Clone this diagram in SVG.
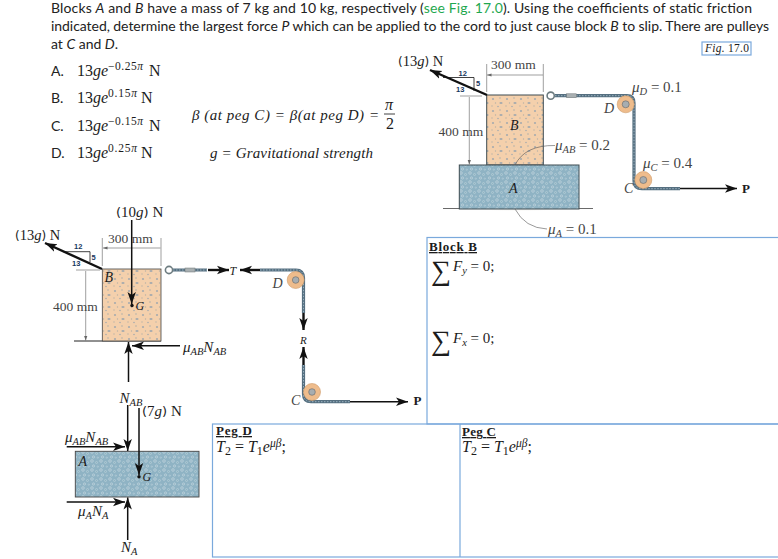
<svg xmlns="http://www.w3.org/2000/svg" width="778" height="559" viewBox="0 0 778 559">
<style>
text{font-family:"Liberation Serif","Times New Roman",serif;fill:#1c1c1c}
.b{font-family:Lato,"Open Sans",sans-serif;font-size:14px;fill:#222}
.m{font-size:16px}
.i{font-style:italic}
.s{font-size:11.5px}
.d{font-size:13.5px;fill:#444}
.mu{font-size:15px;fill:#444}
.n{font-family:"Liberation Sans",sans-serif;font-size:7.5px;fill:#17375e;font-weight:bold}
.h{font-size:13px;font-weight:bold;text-decoration:underline}
.box{fill:none;stroke:#7aa9dc;stroke-width:1.2}
.blk{stroke:#3c4a50;stroke-width:1}
.dim{fill:none;stroke:#777;stroke-width:.7}
.f{fill:none;stroke:#111;stroke-width:1.5;marker-end:url(#ah)}
.ft{fill:none;stroke:#111;stroke-width:2.4;marker-end:url(#ah)}
.cab{fill:none;stroke:#556f80;stroke-width:3.2}
.cab2{fill:none;stroke:#9ab2bf;stroke-width:1;stroke-dasharray:1.5 1.5}
.peg{fill:#eebc8c;stroke:#cf9a68;stroke-width:.6}
.pin{fill:#a7adb0;stroke:#666;stroke-width:.6}
.eye{fill:#fff;stroke:#6d7c80;stroke-width:1.6}
.sl{fill:#a9b0b2;stroke:#6b7375;stroke-width:.5}
.ld{fill:none;stroke:#555;stroke-width:.6}
.fl{font-size:15px}
.su{font-size:10.5px}
</style>
<defs>
<marker id="ah" markerUnits="userSpaceOnUse" markerWidth="13" markerHeight="10" refX="12" refY="5" orient="auto"><path d="M0 .8L12 5L0 9.2L3 5Z" fill="#111"/></marker>
<marker id="dm" markerUnits="userSpaceOnUse" markerWidth="5" markerHeight="4" refX="4.5" refY="2" orient="auto-start-reverse"><path d="M0 .4L4.5 2L0 3.6Z" fill="#666"/></marker>
<pattern id="pb" width="14" height="12" patternUnits="userSpaceOnUse">
<rect width="14" height="12" fill="#f4d0ac"/>
<circle cx="3" cy="3" r="1.100" fill="#a7abad"/><circle cx="10" cy="2" r=".8" fill="#b0b0aa"/><ellipse cx="11" cy="7" rx="1.600" ry=".9" fill="#a7abad"/><circle cx="5.500" cy="7" r=".7" fill="#b8b2a6"/><circle cx="8" cy="10.500" r=".8" fill="#a7abad"/><circle cx="2" cy="10" r=".7" fill="#b8b2a6"/>
</pattern>
<pattern id="pa" width="9" height="9" patternUnits="userSpaceOnUse">
<rect width="9" height="9" fill="#8fb3c4"/>
<circle cx="2" cy="2" r="1.300" fill="none" stroke="#c9dae0" stroke-width=".6"/><circle cx="6.500" cy="3.500" r="1" fill="none" stroke="#bcd1da" stroke-width=".6"/><circle cx="3.500" cy="7" r="1.100" fill="none" stroke="#c9dae0" stroke-width=".6"/><circle cx="7.800" cy="7.600" r=".7" fill="none" stroke="#bcd1da" stroke-width=".5"/>
</pattern>
<radialGradient id="sh" cx=".5" cy="0" r=".6"><stop offset="0" stop-color="#c9c6b4"/><stop offset="1" stop-color="#fff"/></radialGradient>
</defs>

<g id="statement">
<text class="b" x="51" y="12.500" textLength="701">Blocks <tspan class="i">A</tspan> and <tspan class="i">B</tspan> have a mass of 7 kg and 10 kg, respectively (<tspan fill="#1fa84f">see Fig. 17.0</tspan>). Using the coefficients of static friction</text>
<text class="b" x="51" y="30.500" textLength="718">indicated, determine the largest force <tspan class="i">P</tspan> which can be applied to the cord to just cause block <tspan class="i">B</tspan> to slip. There are pulleys</text>
<text class="b" x="51" y="48.500" textLength="67">at <tspan class="i">C</tspan> and <tspan class="i">D</tspan>.</text>
</g>

<g id="options">
<text class="b" x="51" y="76">A.</text>
<text class="m" x="77" y="76">13<tspan class="i">ge</tspan></text><text class="s" x="108" y="70" textLength="35">−0.25<tspan class="i">π</tspan></text><text class="m" x="149" y="76">N</text>
<text class="b" x="51" y="103">B.</text>
<text class="m" x="77" y="103">13<tspan class="i">ge</tspan></text><text class="s" x="108" y="97" textLength="29">0.15<tspan class="i">π</tspan></text><text class="m" x="141" y="103">N</text>
<text class="b" x="51" y="131">C.</text>
<text class="m" x="77" y="131">13<tspan class="i">ge</tspan></text><text class="s" x="108" y="125" textLength="35">−0.15<tspan class="i">π</tspan></text><text class="m" x="149" y="131">N</text>
<text class="b" x="51" y="158">D.</text>
<text class="m" x="77" y="158">13<tspan class="i">ge</tspan></text><text class="s" x="108" y="152" textLength="29">0.25<tspan class="i">π</tspan></text><text class="m" x="141" y="158">N</text>
</g>

<g id="given">
<text class="m i" x="192" y="120" textLength="187" style="font-size:15px">β (at peg C) = β(at peg D) =</text>
<text class="m i" x="385" y="110">π</text>
<line x1="384" y1="114" x2="395" y2="114" stroke="#111" stroke-width=".8"/>
<text class="m" x="386" y="129">2</text>
<text class="m i" x="210" y="158" textLength="163" style="font-size:15px">g = Gravitational strength</text>
</g>

<g id="fig-box">
<rect class="box" x="702" y="42" width="49" height="13"/>
<text x="705" y="51.500" font-size="11.500" textLength="44"><tspan class="i">Fig.</tspan> 17.0</text>
</g>

<g id="solution-boxes">
<rect class="box" x="427" y="237.500" width="352" height="186.500"/>
<rect class="box" x="212.500" y="424" width="566.500" height="133"/>
<line class="box" x1="460" y1="424" x2="460" y2="557"/>
</g>

<g id="block-b-work">
<text class="h" x="429" y="251" textLength="48">Block B</text>
<text x="431" y="280" font-size="28" font-family="DejaVu Serif">∑</text>
<text x="453" y="271" font-size="15"><tspan class="i">F<tspan font-size="10.500" dy="3">y</tspan></tspan><tspan dy="-3"> = 0;</tspan></text>
<text x="431" y="350" font-size="28" font-family="DejaVu Serif">∑</text>
<text x="453" y="343" font-size="15"><tspan class="i">F<tspan font-size="10.500" dy="3">x</tspan></tspan><tspan dy="-3"> = 0;</tspan></text>
</g>
<g id="peg-d-work">
<text class="h" x="216" y="435" textLength="36">Peg D</text>
<text class="m" x="216" y="452"><tspan class="i">T</tspan><tspan font-size="12" dy="3">2</tspan><tspan dy="-3"> = </tspan><tspan class="i">T</tspan><tspan font-size="12" dy="3">1</tspan><tspan class="i" dy="-3">e</tspan><tspan class="i" font-size="11.500" dy="-5">μβ</tspan><tspan dy="5">;</tspan></text>
</g>
<g id="peg-c-work">
<text class="h" x="462" y="436" textLength="34">Peg C</text>
<text class="m" x="462" y="452"><tspan class="i">T</tspan><tspan font-size="12" dy="3">2</tspan><tspan dy="-3"> = </tspan><tspan class="i">T</tspan><tspan font-size="12" dy="3">1</tspan><tspan class="i" dy="-3">e</tspan><tspan class="i" font-size="11.500" dy="-5">μβ</tspan><tspan dy="5">;</tspan></text>
</g>

<g id="main-figure">
<ellipse cx="518" cy="209" rx="62" ry="13" fill="url(#sh)"/>
<line x1="443" y1="208.500" x2="593" y2="208.500" stroke="#444" stroke-width=".8"/>
<rect class="blk" x="486.700" y="95" width="56.600" height="70" fill="url(#pb)"/>
<rect class="blk" x="459.300" y="165" width="119.700" height="44" fill="url(#pa)"/>
<text class="i" x="510" y="130" font-size="14" fill="#333">B</text>
<text class="i" x="509" y="193" font-size="14" fill="#333">A</text>
<path class="dim" d="M486.700 64V92M543.300 64V92M460 96H482"/>
<path class="dim" d="M487 75H543M469.300 97V164.500" marker-start="url(#dm)" marker-end="url(#dm)"/>
<text class="d" x="491" y="69">300 mm</text>
<text class="d" x="438.500" y="136">400 mm</text>
<path class="cab" d="M555 95.700H627Q634 95.700 634 103V181Q634 188.700 642 188.700H680"/>
<path class="cab2" d="M555 95.700H627Q634 95.700 634 103V181Q634 188.700 642 188.700H680"/>
<rect class="sl" x="566.500" y="93.800" width="10" height="3.800"/>
<circle class="eye" cx="550.700" cy="95.700" r="3.600"/>
<circle class="peg" cx="625.700" cy="104.300" r="8.500"/><circle class="pin" cx="625.700" cy="104.300" r="3.500"/>
<circle class="peg" cx="643.300" cy="180" r="8.500"/><circle class="pin" cx="643.300" cy="180" r="3.500"/>
<line class="ft" x1="680" y1="188.500" x2="737" y2="188.500" style="stroke-width:1.600"/>
<line class="ft" x1="487" y1="95" x2="430" y2="70"/>
<path d="M443 77.500H474V91" fill="none" stroke="#111" stroke-width=".8"/>
<text class="n" x="458.500" y="76">12</text><text class="n" x="476" y="86">5</text><text class="n" x="456" y="91.500">13</text>
<text x="398" y="66" font-size="14.500"><tspan font-family="DejaVu Sans" font-size="12">(</tspan>13<tspan class="i">g</tspan><tspan font-family="DejaVu Sans" font-size="12">)</tspan> N</text>
<path class="ld" d="M555 145.500Q525 145 515 165M515 209Q525 228 547 229"/>
<text class="mu i" x="604" y="113" style="font-size:14px">D</text>
<text class="mu" x="632" y="92"><tspan class="i">μ<tspan class="su" dy="3">D</tspan></tspan><tspan dy="-3"> = 0.1</tspan></text>
<text class="mu" x="555" y="150"><tspan class="i">μ<tspan class="su" dy="3">AB</tspan></tspan><tspan dy="-3"> = 0.2</tspan></text>
<text class="mu" x="643" y="168"><tspan class="i">μ<tspan class="su" dy="3">C</tspan></tspan><tspan dy="-3"> = 0.4</tspan></text>
<text class="mu" x="548" y="234"><tspan class="i">μ<tspan class="su" dy="3">A</tspan></tspan><tspan dy="-3"> = 0.1</tspan></text>
<text class="mu i" x="624" y="193" style="font-size:14px">C</text>
<text x="742" y="193" font-size="13" font-weight="bold">P</text>
</g>

<g id="fbd-block-b">
<line x1="74" y1="341" x2="161" y2="341" stroke="#222" stroke-width="1"/>
<rect x="102.300" y="269" width="58.700" height="72" fill="url(#pb)" stroke="#444" stroke-width=".8"/>
<path class="dim" d="M102.300 238V266M161 238V266M76 270H100"/>
<path class="dim" d="M103 248H160.500M85.700 271V340.500" marker-start="url(#dm)" marker-end="url(#dm)"/>
<text class="d" x="108" y="243">300 mm</text>
<text class="d" x="53" y="311">400 mm</text>
<text class="i" x="104.500" y="282" font-size="14">B</text>
<line class="ft" x1="102" y1="269" x2="45" y2="243"/>
<path d="M63 251.700H90V262" fill="none" stroke="#111" stroke-width=".8"/>
<text class="n" x="74" y="249">12</text><text class="n" x="91.500" y="260">5</text><text class="n" x="72" y="266">13</text>
<text x="15" y="240" font-size="14.500"><tspan font-family="DejaVu Sans" font-size="12">(</tspan>13<tspan class="i">g</tspan><tspan font-family="DejaVu Sans" font-size="12">)</tspan> N</text>
<text x="116" y="217" font-size="15"><tspan font-family="DejaVu Sans" font-size="13">(</tspan>10<tspan class="i">g</tspan><tspan font-family="DejaVu Sans" font-size="13">)</tspan> N</text>
<line class="f" x1="131.700" y1="220" x2="131.700" y2="304"/>
<circle cx="132" cy="305.500" r="1.700" fill="#111"/>
<text class="i" x="135.500" y="310" font-size="12">G</text>
<line class="f" x1="180" y1="345.700" x2="132" y2="345.700"/>
<text x="183" y="352" class="fl"><tspan class="i">μ<tspan class="su" dy="3">AB</tspan></tspan><tspan class="i" dy="-3">N<tspan class="su" dy="3">AB</tspan></tspan></text>
<line class="f" x1="128.500" y1="382" x2="128.500" y2="342"/>
</g>

<g id="fbd-cable">
<path class="cab" d="M173 270H207M260 270H296Q303.500 270 303.500 278V313M303.500 365V394Q303.500 401.700 311 401.700H350"/>
<path class="cab2" d="M173 270H207M260 270H296Q303.500 270 303.500 278V313M303.500 365V394Q303.500 401.700 311 401.700H350"/>
<rect class="sl" x="185" y="268" width="10" height="4"/>
<circle class="eye" cx="169" cy="270" r="3.600"/>
<circle class="peg" cx="295.700" cy="280" r="8.500"/><circle class="pin" cx="295.700" cy="280" r="3.300"/>
<circle class="peg" cx="312" cy="392" r="8.500"/><circle class="pin" cx="312" cy="392" r="3.300"/>
<line class="ft" x1="208" y1="270" x2="229" y2="270"/>
<line class="ft" x1="260" y1="270" x2="240" y2="270"/>
<line class="ft" x1="303.500" y1="313" x2="303.500" y2="330"/>
<line class="ft" x1="303.500" y1="365" x2="303.500" y2="347"/>
<line class="ft" x1="350" y1="401.700" x2="408" y2="401.700" style="stroke-width:1.500"/>
<text class="i" x="229.500" y="274.500" font-size="12">T</text>
<text class="i" x="300" y="344" font-size="11">R</text>
<text class="mu i" x="272.500" y="288" style="font-size:14px">D</text>
<text class="mu i" x="291" y="405" style="font-size:14px">C</text>
<text x="413.500" y="405" font-size="13" font-weight="bold">P</text>
</g>

<g id="fbd-block-a">
<rect x="75.300" y="451.300" width="123.700" height="45.700" fill="url(#pa)" stroke="#444" stroke-width=".9"/>
<text class="i" x="78.500" y="466" font-size="14">A</text>
<text x="119.500" y="403" class="fl i">N<tspan class="su" dy="3">AB</tspan></text>
<line class="f" x1="127.700" y1="405" x2="127.700" y2="451"/>
<line class="f" x1="139" y1="408" x2="139" y2="475"/>
<circle cx="139" cy="476.700" r="1.700" fill="#111"/>
<text class="i" x="142.500" y="481" font-size="12">G</text>
<text x="142" y="416" font-size="15"><tspan font-family="DejaVu Sans" font-size="13">(</tspan>7<tspan class="i">g</tspan><tspan font-family="DejaVu Sans" font-size="13">)</tspan> N</text>
<text x="65" y="442" class="fl"><tspan class="i">μ<tspan class="su" dy="3">AB</tspan></tspan><tspan class="i" dy="-3">N<tspan class="su" dy="3">AB</tspan></tspan></text>
<line class="f" x1="66.700" y1="446.700" x2="125" y2="446.700"/>
<line class="f" x1="66.700" y1="502" x2="125" y2="502"/>
<text x="78" y="516" class="fl"><tspan class="i">μ<tspan class="su" dy="3">A</tspan></tspan><tspan class="i" dy="-3">N<tspan class="su" dy="3">A</tspan></tspan></text>
<line class="f" x1="127.700" y1="540" x2="127.700" y2="497.500"/>
<text x="121" y="552" class="fl i">N<tspan class="su" dy="3">A</tspan></text>
</g>
</svg>
